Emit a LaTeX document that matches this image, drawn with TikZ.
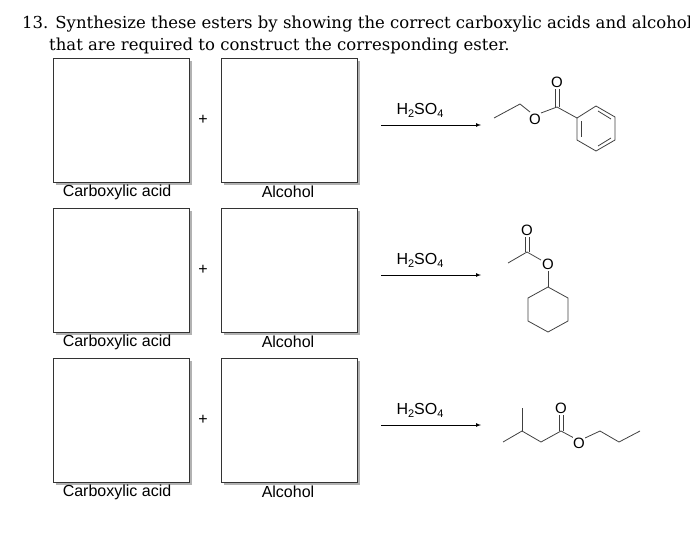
\documentclass[tikz,border=0pt]{standalone}
\usepackage{fontspec}
\setmainfont{DejaVu Serif}
\newfontfamily\lsans{Liberation Sans}
\begin{document}
\begin{tikzpicture}[x=1pt,y=-1pt,
  ansbox/.style={draw=black!80,line width=0.8pt,fill=white,minimum width=136pt,minimum height=124pt,anchor=north west,inner sep=0},
  lab/.style={font=\lsans\fontsize{16}{16}\selectfont,inner sep=0},
  bond/.style={line width=0.8pt,black!75},
  atom/.style={font=\lsans\fontsize{15}{15}\selectfont,inner sep=0.5pt,fill=white},
  rxn/.style={-latex,line width=0.7pt}]
\useasboundingbox (0,0) rectangle (690,539);
\node[anchor=base west,inner sep=0,font=\fontsize{16.5}{16.5}\selectfont] (t1) at (22,28) {13. Synthesize these esters by showing the correct carboxylic acids and alcohols};
\node[anchor=base west,inner sep=0,font=\fontsize{16.5}{16.5}\selectfont] (t2) at (49,50) {that are required to construct the corresponding ester.};
\foreach \r/\y in {1/58,2/208,3/358}{
  \fill[black!30] (56,\y+3) rectangle (192,\y+127);
  \node[ansbox] (a\r) at (53,\y) {};
  \fill[black!30] (224,\y+3) rectangle (360,\y+127);
  \node[ansbox] (b\r) at (221,\y) {};
  \node[lab] (ca\r) at (117,\y+134) {Carboxylic acid};
  \node[lab] (al\r) at (288,\y+134) {Alcohol};
  \node[lab] (p\r) at (203,\y+62) {+};
  \coordinate (s\r) at (381,\y+67);
  \coordinate (e\r) at (481,\y+67);
  \draw[rxn] (s\r) -- (e\r);
  \node[lab] (h\r) at (420,\y+52) {H\raisebox{-3pt}{\fontsize{11}{11}\selectfont 2}SO\raisebox{-3pt}{\fontsize{11}{11}\selectfont 4}};
}
% molecule 1
\draw[bond] (494,118) -- (520,104) -- (530,112);
\draw[bond] (541,113) -- (557,107) -- (577,118);
\draw[bond] (555,107) -- (555,89);
\draw[bond] (559,107) -- (559,89);
\draw[bond] (596,106) -- (615,117) -- (615,140) -- (596,151) -- (577,140) -- (577,118) -- cycle;
\draw[bond] (581,121) -- (581,137);
\draw[bond] (598,111) -- (611,119);
\draw[bond] (611,138) -- (598,146);
\node[atom] (o1) at (535,119) {O};
\node[atom] (o2) at (557,82) {O};
% molecule 2
\draw[bond] (508,263) -- (527,252) -- (541,260);
\draw[bond] (525,252) -- (525,237);
\draw[bond] (529,252) -- (529,237);
\draw[bond] (548,271) -- (548,287);
\draw[bond] (548,287) -- (568,298) -- (568,321) -- (548,332) -- (528,321) -- (528,298) -- cycle;
\node[atom] (o3) at (527,230) {O};
\node[atom] (o4) at (548,264) {O};
% molecule 3
\draw[bond] (503,442) -- (522,431) -- (541,442) -- (561,431) -- (574,438);
\draw[bond] (522,431) -- (522,408);
\draw[bond] (559,431) -- (559,415);
\draw[bond] (563,431) -- (563,415);
\draw[bond] (585,438) -- (600,431) -- (619,442) -- (640,431);
\node[atom] (o5) at (561,408) {O};
\node[atom] (o6) at (579,443) {O};
\end{tikzpicture}
\end{document}
